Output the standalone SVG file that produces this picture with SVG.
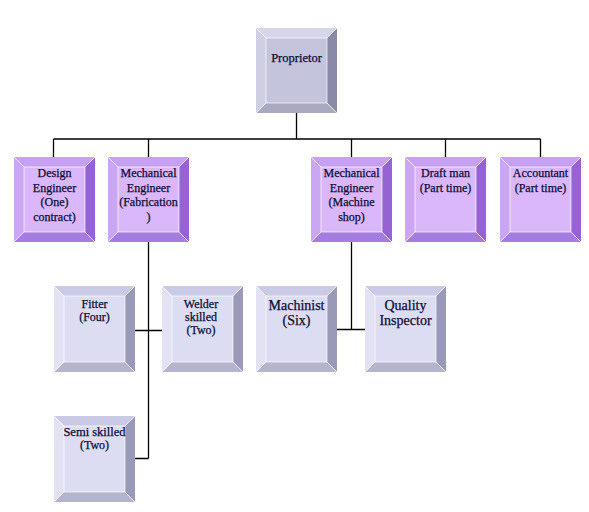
<svg xmlns="http://www.w3.org/2000/svg" xmlns:xlink="http://www.w3.org/1999/xlink" width="589" height="512" viewBox="0 0 589 512">
<style>
.t{font-family:"Liberation Serif","Times New Roman",serif;font-size:12px;text-anchor:middle;fill:#0c0c34;stroke:#0c0c34;stroke-width:0.25}
.big{font-size:14px}
.conn{stroke:#000;stroke-width:1.3;fill:none}
.hl{stroke:#fff;stroke-width:0.9;fill:none;opacity:0.75}
</style>
<defs>
<g id="bevel1">
<polygon points="0,0 81,0 71,10 10,10" fill="#d6d6ea"/>
<polygon points="0,0 10,10 10,75 0,85" fill="#cfcfe4"/>
<polygon points="81,0 81,85 71,75 71,10" fill="#8a8aa8"/>
<polygon points="0,85 10,75 71,75 81,85" fill="#a9a9c2"/>
<rect x="10" y="10" width="61" height="65" fill="#c4c4dc"/>
<path class="hl" d="M10,10H71V75H10Z M0,0L10,10 M81,0L71,10 M0,85L10,75 M81,85L71,75"/>
</g>
<g id="bevel2">
<polygon points="0,0 81,0 71,10 10,10" fill="#c6a0f2"/>
<polygon points="0,0 10,10 10,75 0,85" fill="#cba6f5"/>
<polygon points="81,0 81,85 71,75 71,10" fill="#9563d3"/>
<polygon points="0,85 10,75 71,75 81,85" fill="#a57ce2"/>
<rect x="10" y="10" width="61" height="65" fill="#d9b7fa"/>
<path class="hl" d="M10,10H71V75H10Z M0,0L10,10 M81,0L71,10 M0,85L10,75 M81,85L71,75"/>
</g>
<g id="bevel3">
<polygon points="0,0 81,0 71,10 10,10" fill="#cacae6"/>
<polygon points="0,0 10,10 10,76 0,86" fill="#e2e2f4"/>
<polygon points="81,0 81,86 71,76 71,10" fill="#9a9ab8"/>
<polygon points="0,86 10,76 71,76 81,86" fill="#b4b4cc"/>
<rect x="10" y="10" width="61" height="66" fill="#dcdcf2"/>
<path class="hl" d="M10,10H71V76H10Z M0,0L10,10 M81,0L71,10 M0,86L10,76 M81,86L71,76"/>
</g>
</defs>
<rect width="589" height="512" fill="#fff"/>
<g id="connectors">
<path class="conn" d="M296.5,112V139 M53.5,139H540.5 M53.5,139V157 M148.5,139V157 M351.5,139V157 M445.5,139V157 M540.5,139V157"/>
<path class="conn" d="M148.5,242V458.5 M135,330.5H162 M135,458.5H148.5"/>
<path class="conn" d="M351.5,242V329.5 M337,329.5H365"/>
</g>
<g id="proprietor">
<use xlink:href="#bevel1" x="256" y="28"/>
<text class="t" x="296.5" y="62" style="font-size:12.5px">Proprietor</text>
</g>
<g id="design-engineer">
<use xlink:href="#bevel2" x="14" y="157"/>
<text class="t" x="54.5" y="177">Design</text>
<text class="t" x="54.5" y="191.5">Engineer</text>
<text class="t" x="54.5" y="206">(One)</text>
<text class="t" x="54.5" y="220.5">contract)</text>
</g>
<g id="mech-eng-fab">
<use xlink:href="#bevel2" x="108" y="157"/>
<text class="t" x="148.5" y="177">Mechanical</text>
<text class="t" x="148.5" y="191.5">Engineer</text>
<text class="t" x="148.5" y="206">(Fabrication</text>
<text class="t" x="148.5" y="220.5">)</text>
</g>
<g id="mech-eng-machine">
<use xlink:href="#bevel2" x="311" y="157"/>
<text class="t" x="351.5" y="177">Mechanical</text>
<text class="t" x="351.5" y="191.5">Engineer</text>
<text class="t" x="351.5" y="206">(Machine</text>
<text class="t" x="351.5" y="220.5">shop)</text>
</g>
<g id="draft-man">
<use xlink:href="#bevel2" x="405" y="157"/>
<text class="t" x="445.5" y="177">Draft man</text>
<text class="t" x="445.5" y="191.5">(Part time)</text>
</g>
<g id="accountant">
<use xlink:href="#bevel2" x="500" y="157"/>
<text class="t" x="540.5" y="177">Accountant</text>
<text class="t" x="540.5" y="191.5">(Part time)</text>
</g>
<g id="fitter">
<use xlink:href="#bevel3" x="54" y="286"/>
<text class="t" x="94.5" y="308">Fitter</text>
<text class="t" x="94.5" y="320.5">(Four)</text>
</g>
<g id="welder">
<use xlink:href="#bevel3" x="162" y="286"/>
<text class="t" x="201" y="308">Welder</text>
<text class="t" x="201" y="321">skilled</text>
<text class="t" x="201" y="334">(Two)</text>
</g>
<g id="machinist">
<use xlink:href="#bevel3" x="256" y="286"/>
<text class="t big" x="296.5" y="310">Machinist</text>
<text class="t big" x="296.5" y="325">(Six)</text>
</g>
<g id="quality-inspector">
<use xlink:href="#bevel3" x="365" y="286"/>
<text class="t big" x="405.5" y="310">Quality</text>
<text class="t big" x="405.5" y="325">Inspector</text>
</g>
<g id="semi-skilled">
<use xlink:href="#bevel3" x="54" y="416"/>
<text class="t" x="94.5" y="436" style="font-size:12.5px">Semi skilled</text>
<text class="t" x="94.5" y="448.5">(Two)</text>
</g>
</svg>
